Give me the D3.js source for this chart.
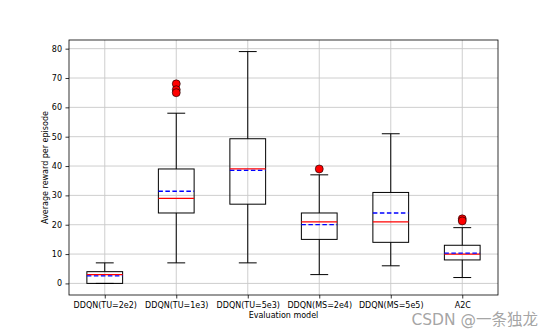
<!DOCTYPE html>
<html>
<head>
<meta charset="utf-8">
<script src="https://cdn.jsdelivr.net/npm/d3@7"></script>
<style>
  html, body { margin: 0; padding: 0; background: #fff; }
  svg { display: block; font-family: "DejaVu Sans", sans-serif; }
</style>
</head>
<body>
<svg id="chart" width="554" height="333"></svg>
<script>
// Evaluation models and their reward distribution summaries
const models = ["DDQN(TU=2e2)", "DDQN(TU=1e3)", "DDQN(TU=5e3)", "DDQN(MS=2e4)", "DDQN(MS=5e5)", "A2C"];
const whiskerLow  = [0, 7, 7, 3, 6, 2];
const q1          = [0, 24, 27, 15, 14, 8];
const medians     = [3, 29, 39, 21, 21, 10];
const means       = [2.6, 31.4, 38.5, 20, 24, 10.3];
const q3          = [4, 39, 49.3, 24, 31, 13];
const whiskerHigh = [7, 58, 79, 37, 51, 19];
const outliers    = [[], [68, 66, 65], [], [39], [], [22, 21.3]];
const yTicks      = [0, 10, 20, 30, 40, 50, 60, 70, 80];

const svg = d3.select("#chart");
const plotLeft = 69, plotRight = 498, plotTop = 40, plotBottom = 295;

const x = d3.scaleLinear().domain([0.5, models.length + 0.5]).range([plotLeft, plotRight]);
const y = d3.scaleLinear().domain([-3.95, 82.95]).range([plotBottom, plotTop]);
const boxW = x(1.25) - x(1);   // half of box width
const capW = boxW / 2;

// grid
const grid = svg.append("g").attr("stroke", "#c8c8c8").attr("stroke-width", 0.9);
yTicks.forEach(t => grid.append("line")
  .attr("x1", plotLeft).attr("x2", plotRight).attr("y1", y(t)).attr("y2", y(t)));
models.forEach((m, i) => grid.append("line")
  .attr("x1", x(i + 1)).attr("x2", x(i + 1)).attr("y1", plotTop).attr("y2", plotBottom));

// axes
const yAxis = d3.axisLeft(y).tickValues(yTicks).tickSize(3.5).tickPadding(3.5);
const gy = svg.append("g").attr("transform", `translate(${plotLeft},0)`).call(yAxis);
const xAxis = d3.axisBottom(x).tickValues(d3.range(1, models.length + 1))
  .tickFormat(d => models[d - 1]).tickSize(3.5).tickPadding(3.5);
const gx = svg.append("g").attr("transform", `translate(0,${plotBottom})`).call(xAxis);
[gx, gy].forEach(g => {
  g.select(".domain").remove();
  g.selectAll("text").attr("font-size", 8).attr("fill", "#000").attr("font-family", "DejaVu Sans, sans-serif");
  g.selectAll("line").attr("stroke", "#000").attr("stroke-width", 0.8);
});

// boxes
const boxes = svg.append("g");
models.forEach((m, i) => {
  const cx = x(i + 1);
  const g = boxes.append("g");
  // whiskers
  g.append("line").attr("x1", cx).attr("x2", cx).attr("y1", y(q1[i])).attr("y2", y(whiskerLow[i]))
    .attr("stroke", "#000").attr("stroke-width", 1);
  g.append("line").attr("x1", cx).attr("x2", cx).attr("y1", y(q3[i])).attr("y2", y(whiskerHigh[i]))
    .attr("stroke", "#000").attr("stroke-width", 1);
  // caps
  [whiskerLow[i], whiskerHigh[i]].forEach(v => g.append("line")
    .attr("x1", cx - capW).attr("x2", cx + capW).attr("y1", y(v)).attr("y2", y(v))
    .attr("stroke", "#000").attr("stroke-width", 1));
  // box
  g.append("rect").attr("x", cx - boxW).attr("width", 2 * boxW)
    .attr("y", y(q3[i])).attr("height", y(q1[i]) - y(q3[i]))
    .attr("fill", "none").attr("stroke", "#000").attr("stroke-width", 1);
  // median
  g.append("line").attr("x1", cx - boxW).attr("x2", cx + boxW).attr("y1", y(medians[i])).attr("y2", y(medians[i]))
    .attr("stroke", "red").attr("stroke-width", 1.3);
  // mean
  g.append("line").attr("x1", cx - boxW).attr("x2", cx + boxW).attr("y1", y(means[i])).attr("y2", y(means[i]))
    .attr("stroke", "blue").attr("stroke-width", 1.3).attr("stroke-dasharray", "4.5,2.5");
  // fliers
  outliers[i].forEach(v => g.append("circle").attr("cx", cx).attr("cy", y(v)).attr("r", 4)
    .attr("fill", "red").attr("stroke", "#000").attr("stroke-width", 0.6));
});

// frame
svg.append("rect").attr("x", plotLeft).attr("y", plotTop).attr("width", plotRight - plotLeft).attr("height", plotBottom - plotTop)
  .attr("fill", "none").attr("stroke", "#000").attr("stroke-width", 0.8);

// axis titles
svg.append("text").attr("x", (plotLeft + plotRight) / 2).attr("y", 318).attr("text-anchor", "middle")
  .attr("font-size", 8).text("Evaluation model");
svg.append("text").attr("transform", `translate(48,${(plotTop + plotBottom) / 2}) rotate(-90)`)
  .attr("text-anchor", "middle").attr("font-size", 8).text("Average reward per episode");

// watermark
svg.append("text").attr("x", 538).attr("y", 325).attr("text-anchor", "end")
  .attr("font-size", 15.5).attr("fill", "#9a9a9a").attr("fill-opacity", 0.9)
  .attr("font-family", "DejaVu Sans, 'Noto Sans CJK SC', sans-serif")
  .text("CSDN @一条独龙");
</script>
</body>
</html>
